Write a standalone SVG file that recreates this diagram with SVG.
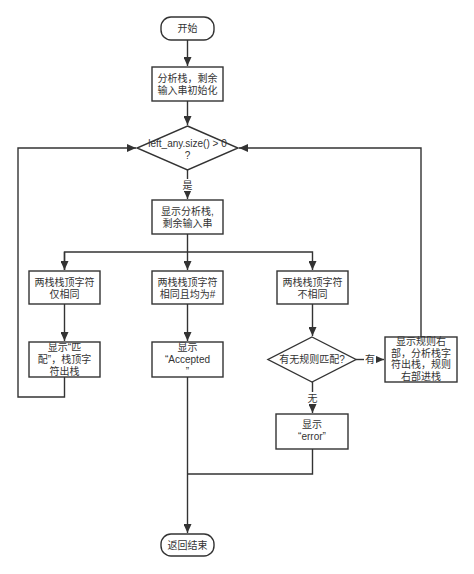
<svg xmlns="http://www.w3.org/2000/svg" width="474" height="574" viewBox="0 0 474 574">
<style>
.n{fill:#fff;stroke:#333;stroke-width:1.4}
.t{font-family:"Liberation Sans","Noto Sans CJK SC",sans-serif;font-size:10px;fill:#333;text-anchor:middle}
.c{fill:none;stroke:#333;stroke-width:1.4}
.lb{fill:#fff}
</style>
<defs>
<marker id="a" markerUnits="userSpaceOnUse" markerWidth="10" markerHeight="8" refX="9" refY="4" orient="auto">
<path d="M0,0 L9,4 L0,8 Z" fill="#333"/>
</marker>
</defs>
<rect width="474" height="574" fill="#fff"/>
<g id="connectors">
<path class="c" d="M187.5,40 V66" marker-end="url(#a)"/>
<path class="c" d="M187.5,101 V125" marker-end="url(#a)"/>
<path class="c" d="M187.5,170 V199" marker-end="url(#a)"/>
<path class="c" d="M187.5,234 V270" marker-end="url(#a)"/>
<path class="c" d="M64.5,270 V252 H312.5 V270" marker-end="url(#a)"/>
<path class="c" d="M64.5,252 V270" marker-end="url(#a)"/>
<path class="c" d="M64.5,304 V341" marker-end="url(#a)"/>
<path class="c" d="M187.5,304 V341" marker-end="url(#a)"/>
<path class="c" d="M312.5,304 V336" marker-end="url(#a)"/>
<path class="c" d="M356,359.5 H384" marker-end="url(#a)"/>
<path class="c" d="M312.5,382 V413" marker-end="url(#a)"/>
<path class="c" d="M312.5,449 V474 H187.5"/>
<path class="c" d="M187.5,377 V533" marker-end="url(#a)"/>
<path class="c" d="M64.5,377 V397 H18 V148 H136" marker-end="url(#a)"/>
<path class="c" d="M421,337 V148 H239" marker-end="url(#a)"/>
<rect class="lb" x="181" y="179" width="13" height="12"/>
<text class="t" x="187.5" y="189">是</text>
<rect class="lb" x="364" y="353" width="12" height="12"/>
<text class="t" x="370" y="363">有</text>
<rect class="lb" x="306" y="392" width="13" height="12"/>
<text class="t" x="312.5" y="402">无</text>
</g>
<g id="start">
<rect class="n" x="161" y="17" width="53" height="23" rx="10"/>
<text class="t" x="187.5" y="32">开始</text>
</g>
<g id="init">
<rect class="n" x="152" y="67" width="71" height="34"/>
<text class="t" x="187.5" y="82">分析栈，剩余</text>
<text class="t" x="187.5" y="94">输入串初始化</text>
</g>
<g id="cond">
<polygon class="n" points="187.5,126 238,148 187.5,170 137,148"/>
<text class="t" x="187.5" y="147">left_any.size() &gt; 0</text>
<text class="t" x="187.5" y="159">?</text>
</g>
<g id="show">
<rect class="n" x="152" y="200" width="71" height="34"/>
<text class="t" x="187.5" y="215">显示分析栈,</text>
<text class="t" x="187.5" y="227">剩余输入串</text>
</g>
<g id="same">
<rect class="n" x="29" y="271" width="71" height="33"/>
<text class="t" x="64.5" y="286">两栈栈顶字符</text>
<text class="t" x="64.5" y="298">仅相同</text>
</g>
<g id="both">
<rect class="n" x="152" y="271" width="71" height="33"/>
<text class="t" x="187.5" y="286">两栈栈顶字符</text>
<text class="t" x="187.5" y="298">相同且均为#</text>
</g>
<g id="diff">
<rect class="n" x="277" y="271" width="71" height="33"/>
<text class="t" x="312.5" y="286">两栈栈顶字符</text>
<text class="t" x="312.5" y="298">不相同</text>
</g>
<g id="match">
<rect class="n" x="29" y="342" width="71" height="35"/>
<text class="t" x="64.5" y="351">显示“匹</text>
<text class="t" x="64.5" y="363">配”，栈顶字</text>
<text class="t" x="64.5" y="375">符出栈</text>
</g>
<g id="accepted">
<rect class="n" x="152" y="342" width="71" height="35"/>
<text class="t" x="187.5" y="351">显示</text>
<text class="t" x="187.5" y="363">“Accepted</text>
<text class="t" x="187.5" y="375">”</text>
</g>
<g id="rule">
<polygon class="n" points="312,337 356,359.5 312,382 268,359.5"/>
<text class="t" x="312" y="363">有无规则匹配?</text>
</g>
<g id="push">
<rect class="n" x="385" y="337" width="72" height="45"/>
<text class="t" x="421" y="345">显示规则右</text>
<text class="t" x="421" y="357">部，分析栈字</text>
<text class="t" x="421" y="368">符出栈，规则</text>
<text class="t" x="421" y="380">右部进栈</text>
</g>
<g id="error">
<rect class="n" x="276" y="414" width="72" height="35"/>
<text class="t" x="312" y="428">显示</text>
<text class="t" x="312" y="440">“error”</text>
</g>
<g id="end">
<rect class="n" x="161" y="534" width="53" height="22" rx="10"/>
<text class="t" x="187.5" y="549">返回结束</text>
</g>
</svg>
